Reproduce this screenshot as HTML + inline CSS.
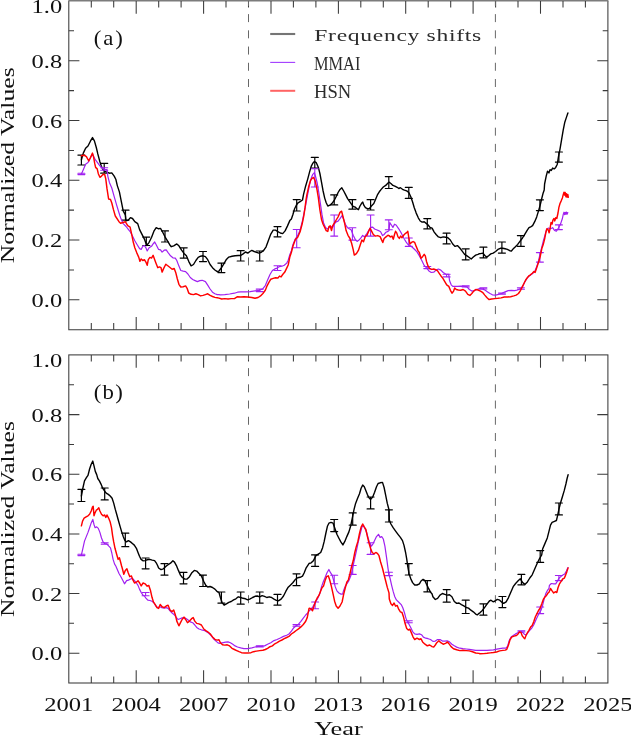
<!DOCTYPE html>
<html><head><meta charset="utf-8"><title>Normalized Values</title>
<style>html,body{margin:0;padding:0;background:#fff}svg{display:block}</style></head>
<body>
<svg width="631" height="735" viewBox="0 0 631 735">
<rect width="631" height="735" fill="#fff"/>
<g stroke="#3a3a3a" stroke-width="1.05" fill="none">
<path d="M68.8 0.9V329.7H607.9V0.9"/>
<path d="M68.3 0.8H608.4" stroke="#7c7c7c" stroke-width="1.6"/>
<path d="M91.3 329.7v-6.6M91.3 0.9v6.6"/>
<path d="M113.7 329.7v-6.6M113.7 0.9v6.6"/>
<path d="M136.2 329.7v-12.8M136.2 0.9v12.8"/>
<path d="M158.7 329.7v-6.6M158.7 0.9v6.6"/>
<path d="M181.1 329.7v-6.6M181.1 0.9v6.6"/>
<path d="M203.6 329.7v-12.8M203.6 0.9v12.8"/>
<path d="M226.0 329.7v-6.6M226.0 0.9v6.6"/>
<path d="M248.5 329.7v-6.6M248.5 0.9v6.6"/>
<path d="M271.0 329.7v-12.8M271.0 0.9v12.8"/>
<path d="M293.4 329.7v-6.6M293.4 0.9v6.6"/>
<path d="M315.9 329.7v-6.6M315.9 0.9v6.6"/>
<path d="M338.4 329.7v-12.8M338.4 0.9v12.8"/>
<path d="M360.8 329.7v-6.6M360.8 0.9v6.6"/>
<path d="M383.3 329.7v-6.6M383.3 0.9v6.6"/>
<path d="M405.7 329.7v-12.8M405.7 0.9v12.8"/>
<path d="M428.2 329.7v-6.6M428.2 0.9v6.6"/>
<path d="M450.7 329.7v-6.6M450.7 0.9v6.6"/>
<path d="M473.1 329.7v-12.8M473.1 0.9v12.8"/>
<path d="M495.6 329.7v-6.6M495.6 0.9v6.6"/>
<path d="M518.0 329.7v-6.6M518.0 0.9v6.6"/>
<path d="M540.5 329.7v-12.8M540.5 0.9v12.8"/>
<path d="M563.0 329.7v-6.6M563.0 0.9v6.6"/>
<path d="M585.4 329.7v-6.6M585.4 0.9v6.6"/>
<path d="M68.8 299.8h10.6M607.9 299.8h-10.6"/>
<path d="M68.8 269.9h5.2M607.9 269.9h-5.2"/>
<path d="M68.8 240.0h10.6M607.9 240.0h-10.6"/>
<path d="M68.8 210.1h5.2M607.9 210.1h-5.2"/>
<path d="M68.8 180.2h10.6M607.9 180.2h-10.6"/>
<path d="M68.8 150.4h5.2M607.9 150.4h-5.2"/>
<path d="M68.8 120.5h10.6M607.9 120.5h-10.6"/>
<path d="M68.8 90.6h5.2M607.9 90.6h-5.2"/>
<path d="M68.8 60.7h10.6M607.9 60.7h-10.6"/>
<path d="M68.8 30.8h5.2M607.9 30.8h-5.2"/>
</g>
<path d="M248.5 0.9V329.7" stroke="#686868" stroke-width="1" stroke-dasharray="8 8.22" stroke-dashoffset="3" fill="none"/>
<path d="M495.4 0.9V329.7" stroke="#686868" stroke-width="1" stroke-dasharray="8 8.22" stroke-dashoffset="3" fill="none"/>
<g font-family='"Liberation Serif", "DejaVu Serif", serif' font-size="18.8" fill="#111">
<text x="62.2" y="307.0" text-anchor="end" textLength="30.6" lengthAdjust="spacingAndGlyphs">0.0</text>
<text x="62.2" y="247.2" text-anchor="end" textLength="30.6" lengthAdjust="spacingAndGlyphs">0.2</text>
<text x="62.2" y="187.4" text-anchor="end" textLength="30.6" lengthAdjust="spacingAndGlyphs">0.4</text>
<text x="62.2" y="127.7" text-anchor="end" textLength="30.6" lengthAdjust="spacingAndGlyphs">0.6</text>
<text x="62.2" y="67.9" text-anchor="end" textLength="30.6" lengthAdjust="spacingAndGlyphs">0.8</text>
<text x="62.2" y="13.4" text-anchor="end" textLength="30.6" lengthAdjust="spacingAndGlyphs">1.0</text>
<text transform="translate(14 165.3) rotate(-90)" text-anchor="middle" textLength="196" lengthAdjust="spacingAndGlyphs">Normalized Values</text>
<text transform="translate(93.7 45.4) scale(1.06 1)" font-size="21.5" textLength="27.6" lengthAdjust="spacing">(a)</text>
</g>
<g stroke="#3a3a3a" stroke-width="1.05" fill="none">
<rect x="68.8" y="354.9" width="539.1" height="328.1"/>
<path d="M91.3 683.0v-6.6M91.3 354.9v6.6"/>
<path d="M113.7 683.0v-6.6M113.7 354.9v6.6"/>
<path d="M136.2 683.0v-12.8M136.2 354.9v12.8"/>
<path d="M158.7 683.0v-6.6M158.7 354.9v6.6"/>
<path d="M181.1 683.0v-6.6M181.1 354.9v6.6"/>
<path d="M203.6 683.0v-12.8M203.6 354.9v12.8"/>
<path d="M226.0 683.0v-6.6M226.0 354.9v6.6"/>
<path d="M248.5 683.0v-6.6M248.5 354.9v6.6"/>
<path d="M271.0 683.0v-12.8M271.0 354.9v12.8"/>
<path d="M293.4 683.0v-6.6M293.4 354.9v6.6"/>
<path d="M315.9 683.0v-6.6M315.9 354.9v6.6"/>
<path d="M338.4 683.0v-12.8M338.4 354.9v12.8"/>
<path d="M360.8 683.0v-6.6M360.8 354.9v6.6"/>
<path d="M383.3 683.0v-6.6M383.3 354.9v6.6"/>
<path d="M405.7 683.0v-12.8M405.7 354.9v12.8"/>
<path d="M428.2 683.0v-6.6M428.2 354.9v6.6"/>
<path d="M450.7 683.0v-6.6M450.7 354.9v6.6"/>
<path d="M473.1 683.0v-12.8M473.1 354.9v12.8"/>
<path d="M495.6 683.0v-6.6M495.6 354.9v6.6"/>
<path d="M518.0 683.0v-6.6M518.0 354.9v6.6"/>
<path d="M540.5 683.0v-12.8M540.5 354.9v12.8"/>
<path d="M563.0 683.0v-6.6M563.0 354.9v6.6"/>
<path d="M585.4 683.0v-6.6M585.4 354.9v6.6"/>
<path d="M68.8 653.2h10.6M607.9 653.2h-10.6"/>
<path d="M68.8 623.3h5.2M607.9 623.3h-5.2"/>
<path d="M68.8 593.5h10.6M607.9 593.5h-10.6"/>
<path d="M68.8 563.7h5.2M607.9 563.7h-5.2"/>
<path d="M68.8 533.9h10.6M607.9 533.9h-10.6"/>
<path d="M68.8 504.0h5.2M607.9 504.0h-5.2"/>
<path d="M68.8 474.2h10.6M607.9 474.2h-10.6"/>
<path d="M68.8 444.4h5.2M607.9 444.4h-5.2"/>
<path d="M68.8 414.6h10.6M607.9 414.6h-10.6"/>
<path d="M68.8 384.7h5.2M607.9 384.7h-5.2"/>
</g>
<path d="M248.5 354.9V683.0" stroke="#686868" stroke-width="1" stroke-dasharray="8 8.22" stroke-dashoffset="3" fill="none"/>
<path d="M495.4 354.9V683.0" stroke="#686868" stroke-width="1" stroke-dasharray="8 8.22" stroke-dashoffset="3" fill="none"/>
<g font-family='"Liberation Serif", "DejaVu Serif", serif' font-size="18.8" fill="#111">
<text x="62.2" y="660.4" text-anchor="end" textLength="30.6" lengthAdjust="spacingAndGlyphs">0.0</text>
<text x="62.2" y="600.7" text-anchor="end" textLength="30.6" lengthAdjust="spacingAndGlyphs">0.2</text>
<text x="62.2" y="541.1" text-anchor="end" textLength="30.6" lengthAdjust="spacingAndGlyphs">0.4</text>
<text x="62.2" y="481.4" text-anchor="end" textLength="30.6" lengthAdjust="spacingAndGlyphs">0.6</text>
<text x="62.2" y="421.8" text-anchor="end" textLength="30.6" lengthAdjust="spacingAndGlyphs">0.8</text>
<text x="62.2" y="367.4" text-anchor="end" textLength="30.6" lengthAdjust="spacingAndGlyphs">1.0</text>
<text transform="translate(14 519.0) rotate(-90)" text-anchor="middle" textLength="196" lengthAdjust="spacingAndGlyphs">Normalized Values</text>
<text transform="translate(93.7 399.4) scale(1.06 1)" font-size="21.5" textLength="27.6" lengthAdjust="spacing">(b)</text>
<text x="68.8" y="711" text-anchor="middle" textLength="49.2" lengthAdjust="spacingAndGlyphs">2001</text>
<text x="136.2" y="711" text-anchor="middle" textLength="49.2" lengthAdjust="spacingAndGlyphs">2004</text>
<text x="203.6" y="711" text-anchor="middle" textLength="49.2" lengthAdjust="spacingAndGlyphs">2007</text>
<text x="271.0" y="711" text-anchor="middle" textLength="49.2" lengthAdjust="spacingAndGlyphs">2010</text>
<text x="338.4" y="711" text-anchor="middle" textLength="49.2" lengthAdjust="spacingAndGlyphs">2013</text>
<text x="405.7" y="711" text-anchor="middle" textLength="49.2" lengthAdjust="spacingAndGlyphs">2016</text>
<text x="473.1" y="711" text-anchor="middle" textLength="49.2" lengthAdjust="spacingAndGlyphs">2019</text>
<text x="540.5" y="711" text-anchor="middle" textLength="49.2" lengthAdjust="spacingAndGlyphs">2022</text>
<text x="607.9" y="711" text-anchor="middle" textLength="49.2" lengthAdjust="spacingAndGlyphs">2025</text>
<text x="338.5" y="735" text-anchor="middle" textLength="48.6" lengthAdjust="spacingAndGlyphs">Year</text>
</g>
<g font-family='"Liberation Serif", "DejaVu Serif", serif' font-size="18.2" fill="#2c2c2c">
<path d="M270.2 34H295.2" stroke="#757575" stroke-width="2.1"/>
<path d="M270.2 62.4H295.2" stroke="#a23cff" stroke-width="1.1"/>
<path d="M270.2 90.8H295.2" stroke="#ff6464" stroke-width="2"/>
<text transform="translate(314.3 41.2) scale(1.34 1)" font-size="17.6" textLength="124.5" lengthAdjust="spacing">Frequency shifts</text>
<text x="314" y="69.9" textLength="46.4" lengthAdjust="spacingAndGlyphs">MMAI</text>
<text x="314" y="98.3" textLength="37.2" lengthAdjust="spacingAndGlyphs">HSN</text>
</g>
<g fill="none" stroke-linejoin="round" stroke-linecap="round">
<path d="M81.4 159.9L83.3 153.1L85.6 148.3L88.0 146.0L90.4 141.2L92.5 137.6L94.4 140.9L96.3 147.5L97.8 153.9L99.9 161.8L101.5 166.6L103.1 169.7L104.7 171.3L107.0 172.1L109.4 173.2L111.8 172.9L114.2 176.1L115.8 179.2L117.3 185.6L119.4 191.9L121.3 201.4L123.2 210.9L125.3 214.9L126.1 220.9L128.2 220.1L130.4 217.7L132.5 218.5L134.8 221.7L137.7 223.6L139.6 229.6L142.0 234.4L144.4 239.1L146.7 245.5L149.1 242.3L151.5 237.5L153.9 231.2L156.2 227.7L158.6 228.8L160.5 228.4L162.6 232.0L165.0 236.8L167.3 240.7L169.7 244.7L171.3 246.7L173.7 245.8L176.8 243.9L178.9 245.8L181.6 250.2L184.0 253.4L186.4 255.8L188.7 261.3L191.1 265.8L193.5 264.5L195.9 260.5L198.2 257.4L200.6 256.2L203.0 255.8L205.4 256.6L207.7 259.7L210.1 264.5L212.5 267.7L214.9 270.0L217.3 271.6L219.0 271.1L219.3 270.5L221.7 267.4L224.1 263.4L226.4 259.4L228.8 257.1L232.0 256.3L235.1 255.8L238.3 255.5L240.7 255.5L243.1 253.9L245.5 252.0L247.8 253.1L249.9 251.5L251.8 250.4L254.2 251.5L256.5 252.3L258.9 253.1L261.3 252.3L263.7 250.4L266.1 246.8L268.4 240.4L270.8 234.1L273.2 230.1L275.6 230.1L277.9 231.7L280.3 233.0L282.7 233.6L285.1 230.9L287.4 226.1L289.8 220.6L291.4 219.0L293.0 214.3L294.6 208.7L296.2 205.5L297.7 203.2L300.1 201.6L302.5 200.0L303.6 194.1L305.6 186.2L307.7 179.1L309.6 171.9L311.2 166.4L312.8 163.2L314.4 161.6L316.3 162.7L318.3 167.2L319.9 173.5L321.5 182.2L323.1 191.0L324.7 198.1L326.2 202.8L327.8 206.0L329.9 205.2L331.8 203.6L334.2 200.5L336.2 196.5L338.1 192.5L340.0 189.4L341.8 187.8L343.7 191.0L345.7 194.9L347.6 198.6L349.5 201.3L351.6 204.4L353.2 206.5L355.2 207.1L356.8 208.7L358.4 209.7L360.0 206.0L361.6 203.3L362.7 202.1L363.8 205.2L365.4 207.6L367.4 208.7L369.5 208.4L371.4 206.0L373.8 203.6L375.4 199.7L377.4 194.9L379.3 191.8L381.2 189.4L383.3 187.0L385.7 185.4L388.0 183.0L389.0 182.2L390.9 183.5L392.9 185.4L394.8 186.1L397.2 187.3L398.8 188.5L400.4 187.7L402.5 189.3L404.4 190.1L406.7 190.9L408.8 192.5L410.7 196.5L412.6 202.0L414.2 207.5L416.2 213.1L418.3 217.8L420.2 221.0L422.1 222.1L424.2 221.8L426.2 223.4L428.1 225.0L430.0 227.4L432.1 228.1L434.2 232.1L436.1 234.5L438.4 236.9L440.8 237.7L443.2 236.9L445.6 237.3L447.9 237.7L450.3 240.0L452.7 244.0L455.1 246.4L457.4 245.6L459.8 248.0L462.2 251.1L464.6 254.3L467.0 255.9L469.3 257.5L471.2 259.0L473.3 257.0L475.7 255.1L478.0 254.3L479.0 253.8L480.5 253.6L482.9 253.1L484.8 255.5L486.8 257.1L488.9 255.5L490.8 253.9L493.2 253.1L495.6 251.5L497.9 249.4L500.3 248.3L502.7 248.3L505.1 248.8L507.4 249.4L509.8 250.7L511.4 251.0L513.0 249.1L515.4 246.8L517.7 244.4L520.1 241.2L522.5 238.0L524.9 234.1L527.3 230.1L529.0 227.7L530.7 226.8L532.6 225.7L534.7 221.7L536.7 216.9L538.6 210.6L540.2 205.1L541.5 199.5L543.1 193.2L544.2 190.0L544.6 184.0L546.2 176.1L547.5 171.3L548.9 172.9L550.0 169.7L551.3 170.5L552.6 168.1L554.2 168.9L555.7 167.4L557.3 164.2L558.4 157.1L560.0 149.1L561.6 139.6L563.2 130.1L564.8 122.2L566.4 117.4L567.9 113.0" stroke="#000" stroke-width="1.4"/>
<path d="M77.9 155.1h7M77.9 165.0h7M81.4 155.1V165.0M100.7 163.4h7M100.7 173.2h7M104.2 163.4V173.2M122.0 210.2h7M122.0 220.1h7M125.5 210.2V220.1M142.8 237.1h7M142.8 245.5h7M146.3 237.1V245.5M161.5 230.9h7M161.5 242.0h7M165.0 230.9V242.0M180.2 247.8h7M180.2 258.1h7M183.7 247.8V258.1M199.5 251.5h7M199.5 261.6h7M203.0 251.5V261.6M217.9 263.1h7M217.9 272.6h7M221.4 263.1V272.6M237.2 250.7h7M237.2 261.0h7M240.7 250.7V261.0M256.2 251.0h7M256.2 261.0h7M259.7 251.0V261.0M274.0 226.6h7M274.0 236.8h7M277.5 226.6V236.8M293.2 199.6h7M293.2 211.0h7M296.7 199.6V211.0M311.3 157.4h7M311.3 168.0h7M314.8 157.4V168.0M330.7 194.9h7M330.7 204.9h7M334.2 194.9V204.9M348.9 199.7h7M348.9 209.2h7M352.4 199.7V209.2M367.1 199.7h7M367.1 210.0h7M370.6 199.7V210.0M385.3 176.6h7M385.3 188.5h7M388.8 176.6V188.5M405.3 187.3h7M405.3 198.4h7M408.8 187.3V198.4M423.8 218.6h7M423.8 228.9h7M427.3 218.6V228.9M443.1 233.2h7M443.1 243.9h7M446.6 233.2V243.9M462.2 248.8h7M462.2 259.8h7M465.7 248.8V259.8M479.9 247.2h7M479.9 257.8h7M483.4 247.2V257.8M498.4 242.0h7M498.4 253.1h7M501.9 242.0V253.1M517.4 235.7h7M517.4 246.3h7M520.9 235.7V246.3M536.4 199.8h7M536.4 210.6h7M539.9 199.8V210.6M555.4 152.0h7M555.4 162.1h7M558.9 152.0V162.1" stroke="#000" stroke-width="1.2" fill="none"/>
<path d="M81.4 174.0L83.3 169.7L85.6 164.2L88.0 162.6L90.4 157.8L92.5 153.9L95.1 159.4L97.5 162.6L99.9 165.8L102.3 168.1L104.7 169.4L107.0 169.7L107.8 176.1L109.4 182.4L111.8 188.0L114.2 196.7L116.5 204.6L118.9 212.5L120.0 216.0L120.6 217.7L123.0 223.3L126.1 226.5L128.5 229.6L130.4 232.0L132.5 236.0L134.8 240.7L137.2 244.7L139.6 248.6L141.2 249.4L142.8 246.3L144.4 245.5L145.9 247.8L147.2 251.0L149.1 247.8L151.5 246.3L153.1 243.9L154.7 242.0L156.2 244.7L158.6 249.4L160.5 249.9L162.1 252.1L164.2 250.2L166.2 249.9L168.1 252.6L170.5 255.8L172.9 257.8L175.3 258.1L176.8 260.5L178.9 266.1L180.8 270.5L183.2 271.1L185.6 271.6L187.9 274.0L190.3 277.5L192.7 279.5L195.1 280.6L197.4 281.6L199.8 280.6L202.2 280.3L205.4 281.6L207.7 285.1L210.1 289.0L212.5 292.2L214.9 293.8L217.3 294.6L219.0 294.6L220.1 294.8L224.8 294.6L229.6 294.0L234.4 293.2L237.5 292.2L240.7 291.9L245.5 291.9L250.2 291.6L255.0 290.8L259.7 290.3L262.9 288.7L265.3 285.6L267.6 280.0L270.0 274.5L272.4 270.5L274.8 268.9L277.1 268.1L279.5 266.6L281.9 266.2L284.3 265.3L286.7 263.1L288.2 260.2L289.8 254.7L291.4 250.7L293.0 244.4L295.4 238.8L297.7 235.7L300.1 230.1L302.5 220.6L304.1 212.7L305.7 204.8L307.7 194.1L309.6 184.6L311.2 178.3L312.8 174.3L314.4 172.7L315.6 176.7L317.2 183.0L318.8 192.5L320.4 203.6L322.0 214.7L323.5 222.7L325.5 227.4L327.4 229.0L329.4 227.4L331.0 226.6L332.6 227.4L334.2 224.2L336.2 221.9L338.1 221.1L340.0 218.7L342.1 215.5L343.7 219.5L345.3 224.2L347.3 227.4L349.2 228.7L351.1 229.8L353.2 235.3L355.2 239.3L357.1 241.4L359.0 240.1L361.1 237.7L362.7 235.3L364.3 236.9L366.3 234.5L368.2 231.4L370.6 227.4L372.7 227.1L374.6 229.0L376.5 229.8L378.5 230.6L380.6 231.8L382.5 235.6L384.1 234.5L386.0 232.2L388.0 231.4L389.0 230.6L389.8 222.6L391.4 225.0L392.9 227.4L394.5 224.2L396.1 225.0L397.7 227.4L399.3 229.7L401.2 232.9L402.8 236.1L404.4 239.2L405.9 241.6L407.5 244.0L409.9 245.6L412.3 247.2L414.7 249.5L417.0 251.9L419.4 255.9L421.8 260.6L424.2 265.4L426.5 267.8L428.9 270.9L431.3 272.5L433.7 272.2L436.1 270.1L438.4 269.0L440.8 270.1L443.2 272.5L445.6 274.1L448.7 274.4L449.6 280.8L451.2 284.8L452.8 286.4L455.1 286.4L457.5 286.4L460.7 286.1L463.9 286.4L467.0 286.8L469.4 289.5L471.8 291.1L474.2 290.6L476.5 289.5L479.7 288.7L482.9 289.1L485.3 290.3L487.6 291.9L490.0 293.5L492.4 294.8L495.6 295.1L498.7 294.3L501.9 293.2L505.1 291.9L508.2 290.6L511.4 290.3L514.6 290.6L517.7 290.0L520.1 288.7L522.5 286.8L524.9 281.6L527.3 278.0L529.0 275.8L529.9 275.6L532.3 273.7L534.7 271.6L537.0 266.1L538.6 260.5L540.2 253.4L541.8 247.1L543.4 240.7L545.0 235.2L546.5 229.6L548.4 228.0L550.5 228.8L552.6 227.7L554.5 230.4L556.4 231.2L558.4 228.0L560.5 224.1L562.4 218.5L563.3 214.1L564.0 212.2L564.6 214.7L565.2 212.3L565.9 214.4L566.5 212.0L567.1 214.2L567.8 212.5" stroke="#a020f0" stroke-width="1.2"/>
<path d="M77.9 173.2h7M77.9 174.6h7M81.4 173.2V174.6M100.7 167.8h7M100.7 170.2h7M104.2 167.8V170.2M256.2 289.1h7M256.2 291.6h7M259.7 289.1V291.6M274.0 265.8h7M274.0 270.5h7M277.5 265.8V270.5M293.2 229.5h7M293.2 247.8h7M296.7 229.5V247.8M311.3 168.8h7M311.3 187.0h7M314.8 168.8V187.0M330.7 215.0h7M330.7 236.1h7M334.2 215.0V236.1M348.9 227.7h7M348.9 240.1h7M352.4 227.7V240.1M367.1 215.0h7M367.1 236.1h7M370.6 215.0V236.1M385.3 219.9h7M385.3 229.7h7M388.8 219.9V229.7M405.3 238.0h7M405.3 246.4h7M408.8 238.0V246.4M423.8 266.5h7M423.8 268.6h7M427.3 266.5V268.6M443.1 274.2h7M443.1 276.9h7M446.6 274.2V276.9M462.2 285.8h7M462.2 287.0h7M465.7 285.8V287.0M479.9 287.8h7M479.9 289.0h7M483.4 287.8V289.0M498.4 293.0h7M498.4 294.2h7M501.9 293.0V294.2M517.4 287.8h7M517.4 289.2h7M520.9 287.8V289.2M536.4 252.6h7M536.4 262.1h7M539.9 252.6V262.1M555.4 224.9h7M555.4 229.6h7M558.9 224.9V229.6" stroke="#a020f0" stroke-width="1.1" fill="none"/>
<path d="M81.4 155.8L84.1 155.2L86.4 156.7L88.8 161.0L90.4 157.8L92.5 153.1L93.6 157.1L94.7 163.4L95.6 167.4L97.2 168.9L98.3 173.7L99.9 177.3L101.5 176.1L103.1 174.2L104.7 174.5L105.8 179.2L107.0 188.7L108.6 199.0L110.5 199.5L111.8 203.0L113.4 209.4L115.3 216.0L119.0 221.7L120.6 223.3L123.0 222.5L125.3 221.7L127.7 225.7L130.1 227.2L131.7 234.4L133.3 242.3L134.8 247.8L136.7 252.6L138.8 257.4L139.9 261.3L141.2 258.9L142.8 260.5L144.4 259.7L145.9 262.1L147.2 265.3L148.3 259.7L149.9 257.4L151.5 258.1L153.1 255.3L154.7 259.7L156.2 263.7L157.8 267.7L159.4 266.9L161.0 267.7L162.1 272.1L163.7 268.4L165.8 264.2L167.8 265.8L169.7 267.3L172.1 269.2L174.2 268.4L175.7 272.4L177.3 278.7L178.9 284.3L180.8 287.0L183.2 286.7L185.6 285.9L187.1 288.3L188.7 293.0L191.1 294.3L193.5 294.6L195.9 293.8L198.2 294.6L200.6 295.9L203.0 295.4L205.4 294.6L207.7 293.8L210.1 295.4L212.5 296.5L214.9 297.4L217.3 297.8L219.0 298.1L221.7 299.0L224.8 298.6L228.0 299.0L231.2 298.6L234.4 298.6L237.5 296.7L240.7 297.0L243.9 296.7L247.8 297.0L251.8 297.5L255.0 298.3L258.1 297.5L260.5 295.9L262.9 293.5L265.3 290.3L266.8 286.4L268.9 282.4L270.8 279.2L273.2 278.4L275.6 277.7L277.9 278.0L279.5 276.1L281.1 276.9L282.7 274.5L284.8 272.1L286.7 268.1L288.2 265.0L289.8 257.1L291.4 252.3L293.0 246.0L295.4 239.6L297.7 237.2L300.1 231.7L302.2 223.8L303.8 215.8L305.0 207.9L306.0 200.0L306.7 195.7L308.8 186.2L310.4 180.7L312.0 178.3L313.6 177.5L315.1 180.7L316.7 187.8L318.3 197.3L319.9 210.0L321.5 219.5L323.1 224.2L324.7 227.4L326.2 230.6L327.8 231.4L328.9 226.6L330.2 225.8L331.5 230.6L332.6 225.8L334.6 222.7L336.5 219.5L338.4 216.3L340.0 212.4L341.6 211.2L342.9 216.3L344.5 222.7L346.1 230.6L348.0 235.3L350.0 238.5L351.6 243.3L353.2 249.6L354.3 255.1L356.4 253.6L358.4 250.4L360.3 244.8L361.9 240.1L363.5 241.7L365.1 236.9L367.0 235.3L368.6 231.4L370.1 228.2L371.7 231.4L373.3 234.5L375.4 236.1L377.7 235.6L380.1 236.6L381.7 240.1L382.8 242.5L384.1 238.5L386.0 236.9L388.0 235.3L389.0 235.6L390.4 236.9L392.0 236.1L393.3 239.2L394.5 234.5L395.6 231.3L396.7 232.9L398.0 236.9L399.3 238.4L400.6 236.1L402.0 237.7L403.6 235.3L405.1 233.7L406.7 232.6L407.8 231.3L408.8 237.7L409.9 244.0L411.5 242.4L413.1 241.6L414.7 242.4L416.2 246.4L417.8 250.3L419.4 252.7L421.0 258.3L422.6 256.7L424.2 254.3L425.3 255.9L426.5 261.4L428.1 266.2L429.7 268.6L431.6 269.4L433.7 269.0L435.7 269.7L437.6 270.9L439.2 273.3L440.8 275.7L442.9 278.4L444.8 281.6L446.7 284.8L448.8 286.4L450.4 290.3L452.0 293.2L453.6 291.1L454.7 288.0L456.3 289.5L458.3 290.0L460.7 290.3L463.1 289.5L465.5 291.1L467.8 294.3L469.9 295.4L471.8 293.5L473.7 291.1L475.8 289.5L478.1 290.0L480.5 291.1L482.9 292.7L484.8 295.1L486.8 297.5L488.9 299.5L491.6 299.0L494.8 298.6L497.9 298.3L501.1 297.9L504.3 297.0L507.4 297.0L510.6 296.7L513.8 295.9L516.2 295.1L518.5 293.5L520.6 290.3L522.5 286.4L524.1 283.2L525.7 280.0L527.3 277.7L529.0 275.8L530.4 274.8L532.3 273.2L533.9 271.6L535.1 272.4L536.7 267.7L538.6 262.1L540.2 256.6L541.8 248.6L543.4 243.9L544.6 239.1L545.8 232.8L546.9 228.8L548.1 229.6L549.1 232.8L550.0 228.8L551.0 222.5L552.1 224.1L552.9 220.1L554.0 218.5L554.8 220.9L555.7 217.7L556.8 218.5L558.0 213.0L558.9 207.4L560.0 203.5L561.1 201.1L562.4 197.9L563.3 194.4L564.0 192.2L564.6 195.1L565.2 192.5L565.9 196.7L566.5 193.8L567.1 197.0L567.8 194.4L568.3 197.3" stroke="#ff0000" stroke-width="1.45"/>
</g>
<g fill="none" stroke-linejoin="round" stroke-linecap="round">
<path d="M81.4 496.0L82.9 488.0L84.5 480.9L86.4 477.7L88.0 475.4L89.6 469.0L91.2 464.3L92.8 461.1L94.0 465.8L95.3 471.4L96.7 474.6L97.8 478.5L99.4 480.9L101.0 484.1L102.6 488.0L104.7 491.2L106.2 493.1L108.3 494.4L110.2 496.0L112.1 498.3L113.7 503.1L115.3 509.4L116.9 515.0L118.4 520.5L120.0 526.1L121.6 531.6L123.2 536.4L124.8 540.3L126.4 541.9L128.4 540.6L130.5 541.9L132.4 543.5L134.3 545.1L136.4 548.3L137.9 552.2L139.5 556.2L141.1 559.4L143.2 560.9L145.1 560.6L147.4 559.7L149.8 559.4L152.2 560.1L154.6 560.6L156.2 562.8L157.7 565.7L158.6 568.0L161.0 569.6L163.4 568.8L165.8 566.4L168.1 564.8L170.5 563.2L172.9 560.8L174.5 562.1L176.4 565.6L178.4 570.4L180.5 575.1L182.4 577.5L184.8 579.1L187.1 579.1L189.5 576.7L191.9 572.7L194.3 570.4L196.7 571.1L199.0 573.5L201.4 575.9L203.8 581.5L205.8 585.4L207.7 587.0L210.1 586.5L212.5 587.5L214.9 589.1L216.9 591.3L219.0 592.5L220.4 597.5L222.0 602.3L224.1 605.2L226.4 603.9L228.8 602.3L231.2 601.5L233.6 599.9L235.9 598.8L238.3 596.8L240.7 597.5L243.1 598.3L245.5 598.8L247.8 599.9L250.2 598.8L252.6 597.5L255.0 596.3L257.3 596.0L259.7 596.8L262.1 595.6L264.5 596.3L266.8 597.5L269.2 596.8L271.6 597.5L274.0 599.1L276.4 600.4L278.7 600.7L281.1 599.1L283.5 596.0L285.9 591.2L288.2 587.2L290.6 584.9L293.0 582.5L295.4 579.3L297.7 577.7L300.1 577.3L302.5 576.1L304.1 573.0L306.0 568.2L308.0 565.1L309.0 563.5L311.2 562.8L313.6 560.4L315.9 555.7L318.3 554.1L320.7 552.5L322.6 547.7L324.2 541.4L325.8 533.5L327.4 526.3L328.9 523.2L331.0 522.4L333.1 523.2L335.0 528.7L336.9 534.3L338.9 538.2L341.0 542.2L342.9 544.9L344.8 541.4L346.8 536.6L348.9 531.9L350.8 525.5L352.4 517.6L354.0 509.7L355.6 503.4L357.5 498.6L359.5 493.8L361.1 488.3L362.7 485.1L364.3 486.7L365.9 490.7L367.4 494.6L369.0 497.8L370.6 499.4L372.7 497.0L374.6 492.3L376.5 486.7L378.1 483.5L380.1 482.8L382.5 482.4L384.1 487.5L385.7 495.4L387.3 503.4L389.0 509.7L389.3 520.0L390.9 524.0L393.3 527.9L395.6 531.1L398.0 534.3L400.4 537.4L402.5 540.6L404.0 545.4L405.6 552.5L406.7 558.8L407.8 566.7L409.1 573.9L410.7 578.6L412.6 582.6L414.7 585.0L417.0 585.0L419.4 583.9L421.0 581.0L423.1 579.4L425.0 580.7L426.5 584.2L428.4 588.1L430.5 592.1L432.1 594.0L432.9 596.7L435.3 599.5L437.6 598.3L440.0 595.1L442.4 593.5L444.8 594.3L447.1 595.1L449.5 594.8L451.9 596.7L454.3 601.5L456.7 603.4L459.0 603.0L461.4 604.6L463.8 605.9L466.2 607.5L468.5 608.1L470.9 610.2L473.3 611.8L475.7 614.1L477.3 614.9L479.0 613.3L479.9 612.8L482.3 610.5L484.7 607.3L487.0 604.1L489.4 601.0L491.0 600.2L493.1 601.8L495.0 601.0L497.3 599.4L499.7 600.2L502.1 602.5L503.7 603.3L506.1 601.8L508.4 597.8L510.8 592.2L513.2 586.7L515.6 583.5L517.9 581.1L520.3 578.8L522.7 582.7L525.1 584.3L527.4 581.9L529.8 578.0L532.2 574.8L534.6 569.3L537.0 563.7L539.3 559.0L541.7 555.0L542.6 549.0L545.0 543.4L547.3 537.9L548.9 531.6L550.5 525.2L552.1 522.4L554.5 521.3L556.4 520.5L557.6 515.7L558.9 509.4L560.5 503.0L562.4 496.7L564.3 490.4L565.9 484.0L567.1 478.5L568.1 474.8" stroke="#000" stroke-width="1.4"/>
<path d="M77.9 489.3h7M77.9 501.5h7M81.4 489.3V501.5M101.2 488.0h7M101.2 499.9h7M104.7 488.0V499.9M121.8 533.2h7M121.8 546.7h7M125.3 533.2V546.7M142.1 558.0h7M142.1 568.8h7M145.6 558.0V568.8M161.0 563.7h7M161.0 575.1h7M164.5 563.7V575.1M180.0 572.3h7M180.0 583.8h7M183.5 572.3V583.8M199.5 575.1h7M199.5 586.5h7M203.0 575.1V586.5M217.9 592.0h7M217.9 603.1h7M221.4 592.0V603.1M237.2 592.0h7M237.2 604.2h7M240.7 592.0V604.2M256.2 592.0h7M256.2 603.1h7M259.7 592.0V603.1M274.0 594.4h7M274.0 605.2h7M277.5 594.4V605.2M293.0 573.8h7M293.0 585.7h7M296.5 573.8V585.7M311.6 554.9h7M311.6 566.4h7M315.1 554.9V566.4M330.7 519.5h7M330.7 531.6h7M334.2 519.5V531.6M349.2 512.9h7M349.2 525.2h7M352.7 512.9V525.2M367.1 497.0h7M367.1 508.9h7M370.6 497.0V508.9M385.4 509.8h7M385.4 522.0h7M388.9 509.8V522.0M405.3 563.6h7M405.3 575.0h7M408.8 563.6V575.0M423.8 580.6h7M423.8 591.8h7M427.3 580.6V591.8M443.2 589.6h7M443.2 602.2h7M446.7 589.6V602.2M462.2 600.2h7M462.2 613.5h7M465.7 600.2V613.5M479.9 603.8h7M479.9 615.2h7M483.4 603.8V615.2M498.9 596.5h7M498.9 607.6h7M502.4 596.5V607.6M517.9 574.3h7M517.9 584.8h7M521.4 574.3V584.8M536.7 550.6h7M536.7 562.3h7M540.2 550.6V562.3M555.4 503.0h7M555.4 514.9h7M558.9 503.0V514.9" stroke="#000" stroke-width="1.2" fill="none"/>
<path d="M81.4 554.9L82.9 548.3L84.5 541.1L86.4 536.4L88.0 532.4L89.6 527.7L91.2 522.9L92.8 519.4L94.0 524.5L95.1 527.7L96.7 526.9L98.3 528.4L99.9 532.4L101.5 538.0L103.1 541.9L104.7 543.5L106.7 543.8L108.6 545.9L110.5 547.9L111.8 553.0L113.1 559.4L114.6 564.1L115.8 566.0L119.0 573.5L120.9 576.7L123.0 580.7L124.5 583.8L126.6 580.7L128.5 580.2L130.4 579.1L132.5 578.3L134.5 580.7L136.4 583.0L138.0 585.4L139.6 589.4L141.2 592.5L142.8 594.9L144.4 596.0L145.9 598.1L147.8 600.2L149.9 600.5L152.0 601.3L153.9 602.8L155.8 606.0L157.8 607.6L159.9 606.8L161.8 607.6L164.2 608.1L166.2 607.6L168.1 608.4L170.0 610.8L172.1 613.1L174.2 614.7L176.1 617.1L178.0 619.5L180.0 618.7L182.1 617.9L184.3 617.6L186.4 618.7L188.4 620.3L190.3 621.9L192.7 622.7L194.8 625.0L196.7 627.4L199.0 629.0L201.4 629.8L203.8 630.3L206.2 631.4L208.5 633.0L210.9 635.3L213.3 638.5L215.7 640.9L218.0 642.9L219.0 643.3L220.9 643.2L223.3 642.7L225.6 642.2L228.0 641.9L230.4 642.7L232.8 644.3L235.1 645.9L237.5 647.0L240.7 647.9L243.9 648.6L247.8 648.6L251.8 647.9L255.0 647.0L258.1 646.4L261.3 646.4L264.5 645.9L267.6 644.3L270.8 642.7L274.0 640.6L277.1 639.5L280.3 638.0L283.5 636.4L286.7 635.3L289.0 634.0L291.4 631.1L293.8 627.7L296.2 625.8L298.5 624.2L300.9 621.3L303.3 618.1L305.7 615.0L308.0 612.6L309.0 611.0L310.4 609.9L312.8 606.8L315.1 602.8L317.5 598.8L319.9 593.3L321.5 586.9L323.1 582.2L325.1 577.4L327.0 572.7L328.9 569.5L330.5 572.7L332.1 575.1L333.7 580.6L335.3 586.9L336.9 590.9L338.9 593.0L341.0 594.1L342.6 594.1L343.7 590.1L345.3 586.1L346.8 583.8L348.9 580.6L350.8 575.8L352.4 569.5L354.0 561.6L354.3 560.4L356.4 550.9L358.4 541.4L360.3 533.5L361.9 527.1L363.5 525.5L365.1 528.7L366.7 532.7L368.2 538.2L369.8 543.8L371.4 546.1L373.0 543.8L374.6 540.6L376.5 536.6L378.5 534.3L380.1 537.4L381.7 536.6L383.3 539.0L384.9 546.1L386.5 557.2L388.0 568.3L389.0 574.7L390.1 578.5L391.7 585.6L393.3 591.9L394.8 596.7L396.4 599.9L398.8 602.2L401.2 604.6L402.8 607.8L404.4 612.5L405.9 618.1L407.5 622.1L409.1 624.4L410.7 627.6L412.6 631.6L414.7 633.9L417.0 634.4L419.4 633.9L421.5 634.7L423.4 637.1L425.8 638.2L428.1 638.7L430.5 639.5L432.9 641.4L435.3 641.1L437.6 639.5L440.0 639.5L442.4 641.1L444.8 641.1L447.1 640.8L449.5 641.9L451.9 644.2L454.3 645.8L456.7 647.1L459.8 648.2L463.0 648.7L466.2 649.0L469.3 649.3L472.5 649.8L475.7 650.3L479.0 650.3L480.7 650.4L487.0 650.4L493.4 649.8L498.1 648.8L502.9 648.2L506.1 648.2L507.6 646.1L509.2 640.6L511.1 637.1L513.2 635.5L515.6 633.9L517.9 632.7L520.3 631.9L522.7 632.3L524.3 634.2L525.9 635.0L527.4 633.4L529.0 631.1L531.4 628.7L533.8 624.7L536.2 619.2L538.5 614.4L540.9 610.5L542.5 605.7L544.1 599.4L545.7 593.8L547.3 590.7L549.0 588.3L549.4 585.4L551.3 583.5L553.7 583.8L555.7 583.8L557.3 581.4L558.9 578.2L560.8 576.6L562.7 575.1L564.8 573.9L566.4 571.1L567.9 567.6" stroke="#a020f0" stroke-width="1.2"/>
<path d="M77.9 554.2h7M77.9 555.6h7M81.4 554.2V555.6M101.2 542.8h7M101.2 544.2h7M104.7 542.8V544.2M142.1 592.5h7M142.1 595.7h7M145.6 592.5V595.7M256.2 645.8h7M256.2 647.0h7M259.7 645.8V647.0M293.0 624.6h7M293.0 626.2h7M296.5 624.6V626.2M311.6 602.0h7M311.6 608.8h7M315.1 602.0V608.8M330.7 575.2h7M330.7 583.8h7M334.2 575.2V583.8M349.2 565.5h7M349.2 574.4h7M352.7 565.5V574.4M367.1 542.7h7M367.1 554.4h7M370.6 542.7V554.4M385.4 572.2h7M385.4 575.6h7M388.9 572.2V575.6M405.3 620.8h7M405.3 622.8h7M408.8 620.8V622.8M517.9 630.8h7M517.9 632.0h7M521.4 630.8V632.0M536.7 607.0h7M536.7 613.6h7M540.2 607.0V613.6M555.4 575.5h7M555.4 580.6h7M558.9 575.5V580.6" stroke="#a020f0" stroke-width="1.1" fill="none"/>
<path d="M81.4 525.8L82.5 521.3L84.1 518.1L86.1 516.9L88.0 515.8L89.6 514.2L91.2 511.0L92.5 507.1L93.2 506.3L94.0 515.8L95.1 512.6L96.3 510.2L97.5 509.4L98.8 507.8L99.9 511.0L101.5 514.2L103.1 515.8L104.7 515.0L105.8 517.4L107.0 515.0L108.6 518.1L110.2 522.1L111.5 527.7L112.6 535.6L113.7 541.9L115.0 548.3L116.5 553.8L118.1 559.4L119.4 557.8L120.5 561.7L121.6 566.0L122.2 568.0L123.8 574.3L125.3 570.4L126.9 568.8L128.2 572.7L129.8 576.7L131.4 575.9L132.9 579.9L134.5 583.0L136.4 582.2L138.0 580.7L139.6 583.0L141.2 585.9L143.1 583.0L145.1 583.8L147.2 586.2L148.8 585.4L150.4 590.2L152.0 597.3L153.5 602.1L155.1 604.4L157.0 607.6L158.6 608.4L160.2 604.4L162.1 606.8L164.2 607.6L166.2 606.0L168.1 605.2L170.0 610.0L172.1 611.6L173.7 610.0L175.3 614.7L176.8 621.1L178.9 625.8L180.5 622.7L182.1 619.5L184.0 617.1L185.6 619.5L187.5 622.7L189.5 621.1L191.6 618.7L193.2 617.6L194.8 621.1L196.7 623.4L199.0 623.9L201.4 625.0L203.8 629.0L205.8 630.6L207.7 631.8L210.1 633.7L212.5 636.9L214.9 639.3L216.9 640.1L219.0 639.8L220.4 642.7L222.5 644.8L224.8 645.1L227.2 644.8L229.6 645.9L232.0 648.3L234.4 649.5L236.7 650.6L239.1 651.7L241.5 652.7L244.7 653.0L247.8 653.0L251.0 652.7L253.4 651.7L256.5 651.1L259.7 650.6L262.9 650.2L265.3 649.5L267.6 648.3L270.0 646.7L272.4 645.9L274.8 643.8L277.1 642.7L279.5 641.1L281.9 640.0L284.3 638.7L286.7 637.5L289.0 636.4L291.4 634.0L293.8 632.4L296.2 630.5L298.5 628.9L300.9 626.9L303.3 624.5L305.7 621.3L307.3 617.4L309.0 608.6L309.3 608.3L310.9 608.8L312.5 610.7L314.0 606.0L315.6 601.2L317.2 598.0L318.8 595.7L320.4 591.7L322.0 587.7L323.5 586.1L325.1 580.6L326.7 576.6L328.3 575.8L329.9 580.6L331.5 586.9L333.1 594.1L334.6 601.2L336.2 606.0L338.1 608.3L340.0 606.0L342.1 602.0L343.7 594.1L345.3 587.7L346.8 582.2L348.4 579.8L350.0 573.5L351.6 566.3L353.2 560.8L354.8 552.5L356.4 546.1L357.9 541.4L359.5 533.5L361.1 527.1L362.7 524.0L364.3 527.1L365.9 529.5L367.4 536.6L369.0 543.0L370.6 548.5L372.2 552.5L373.8 553.8L375.8 552.5L377.4 553.3L379.0 555.7L380.6 562.0L382.5 568.3L384.1 574.7L385.7 581.0L387.3 587.4L389.0 592.9L389.3 599.1L390.9 603.8L392.5 605.4L394.1 603.0L395.6 606.2L397.2 605.4L398.8 609.4L400.4 611.8L402.0 612.5L403.6 617.3L405.1 623.6L406.7 628.4L408.3 630.0L409.9 629.2L411.5 633.1L413.1 637.1L414.7 639.5L417.0 638.2L419.4 639.5L421.0 638.7L422.6 641.9L425.0 644.2L427.3 645.8L429.7 645.0L432.1 646.6L433.7 647.1L435.3 645.0L436.8 642.7L438.9 640.8L440.8 642.7L443.2 644.2L445.6 643.4L447.1 641.9L448.7 643.4L451.1 646.6L453.5 648.7L456.7 649.8L459.8 650.6L463.0 650.3L466.2 650.6L469.3 650.9L472.5 651.8L475.7 653.0L479.0 653.4L479.9 653.7L483.9 653.6L487.0 653.3L490.2 652.9L493.4 652.5L496.5 652.0L499.7 650.9L502.9 650.4L505.3 650.1L506.8 649.3L508.4 645.3L510.0 639.8L511.6 637.1L514.0 636.1L516.4 635.5L517.9 634.2L519.5 631.9L521.1 632.7L522.2 635.8L523.5 637.4L524.8 638.7L525.9 635.8L527.4 632.7L529.0 630.3L530.6 627.1L532.2 625.5L533.8 621.6L535.4 616.8L537.0 613.6L538.5 610.5L540.1 608.1L541.7 604.1L543.3 599.4L544.9 597.0L546.5 595.4L548.0 593.0L549.0 592.2L550.5 588.5L552.1 590.9L553.7 593.0L555.3 591.7L556.8 592.5L558.0 587.7L559.5 583.8L561.1 581.4L562.7 579.0L564.3 578.2L565.6 575.1L566.8 571.9L568.1 567.9" stroke="#ff0000" stroke-width="1.45"/>
</g>
</svg>
</body></html>
